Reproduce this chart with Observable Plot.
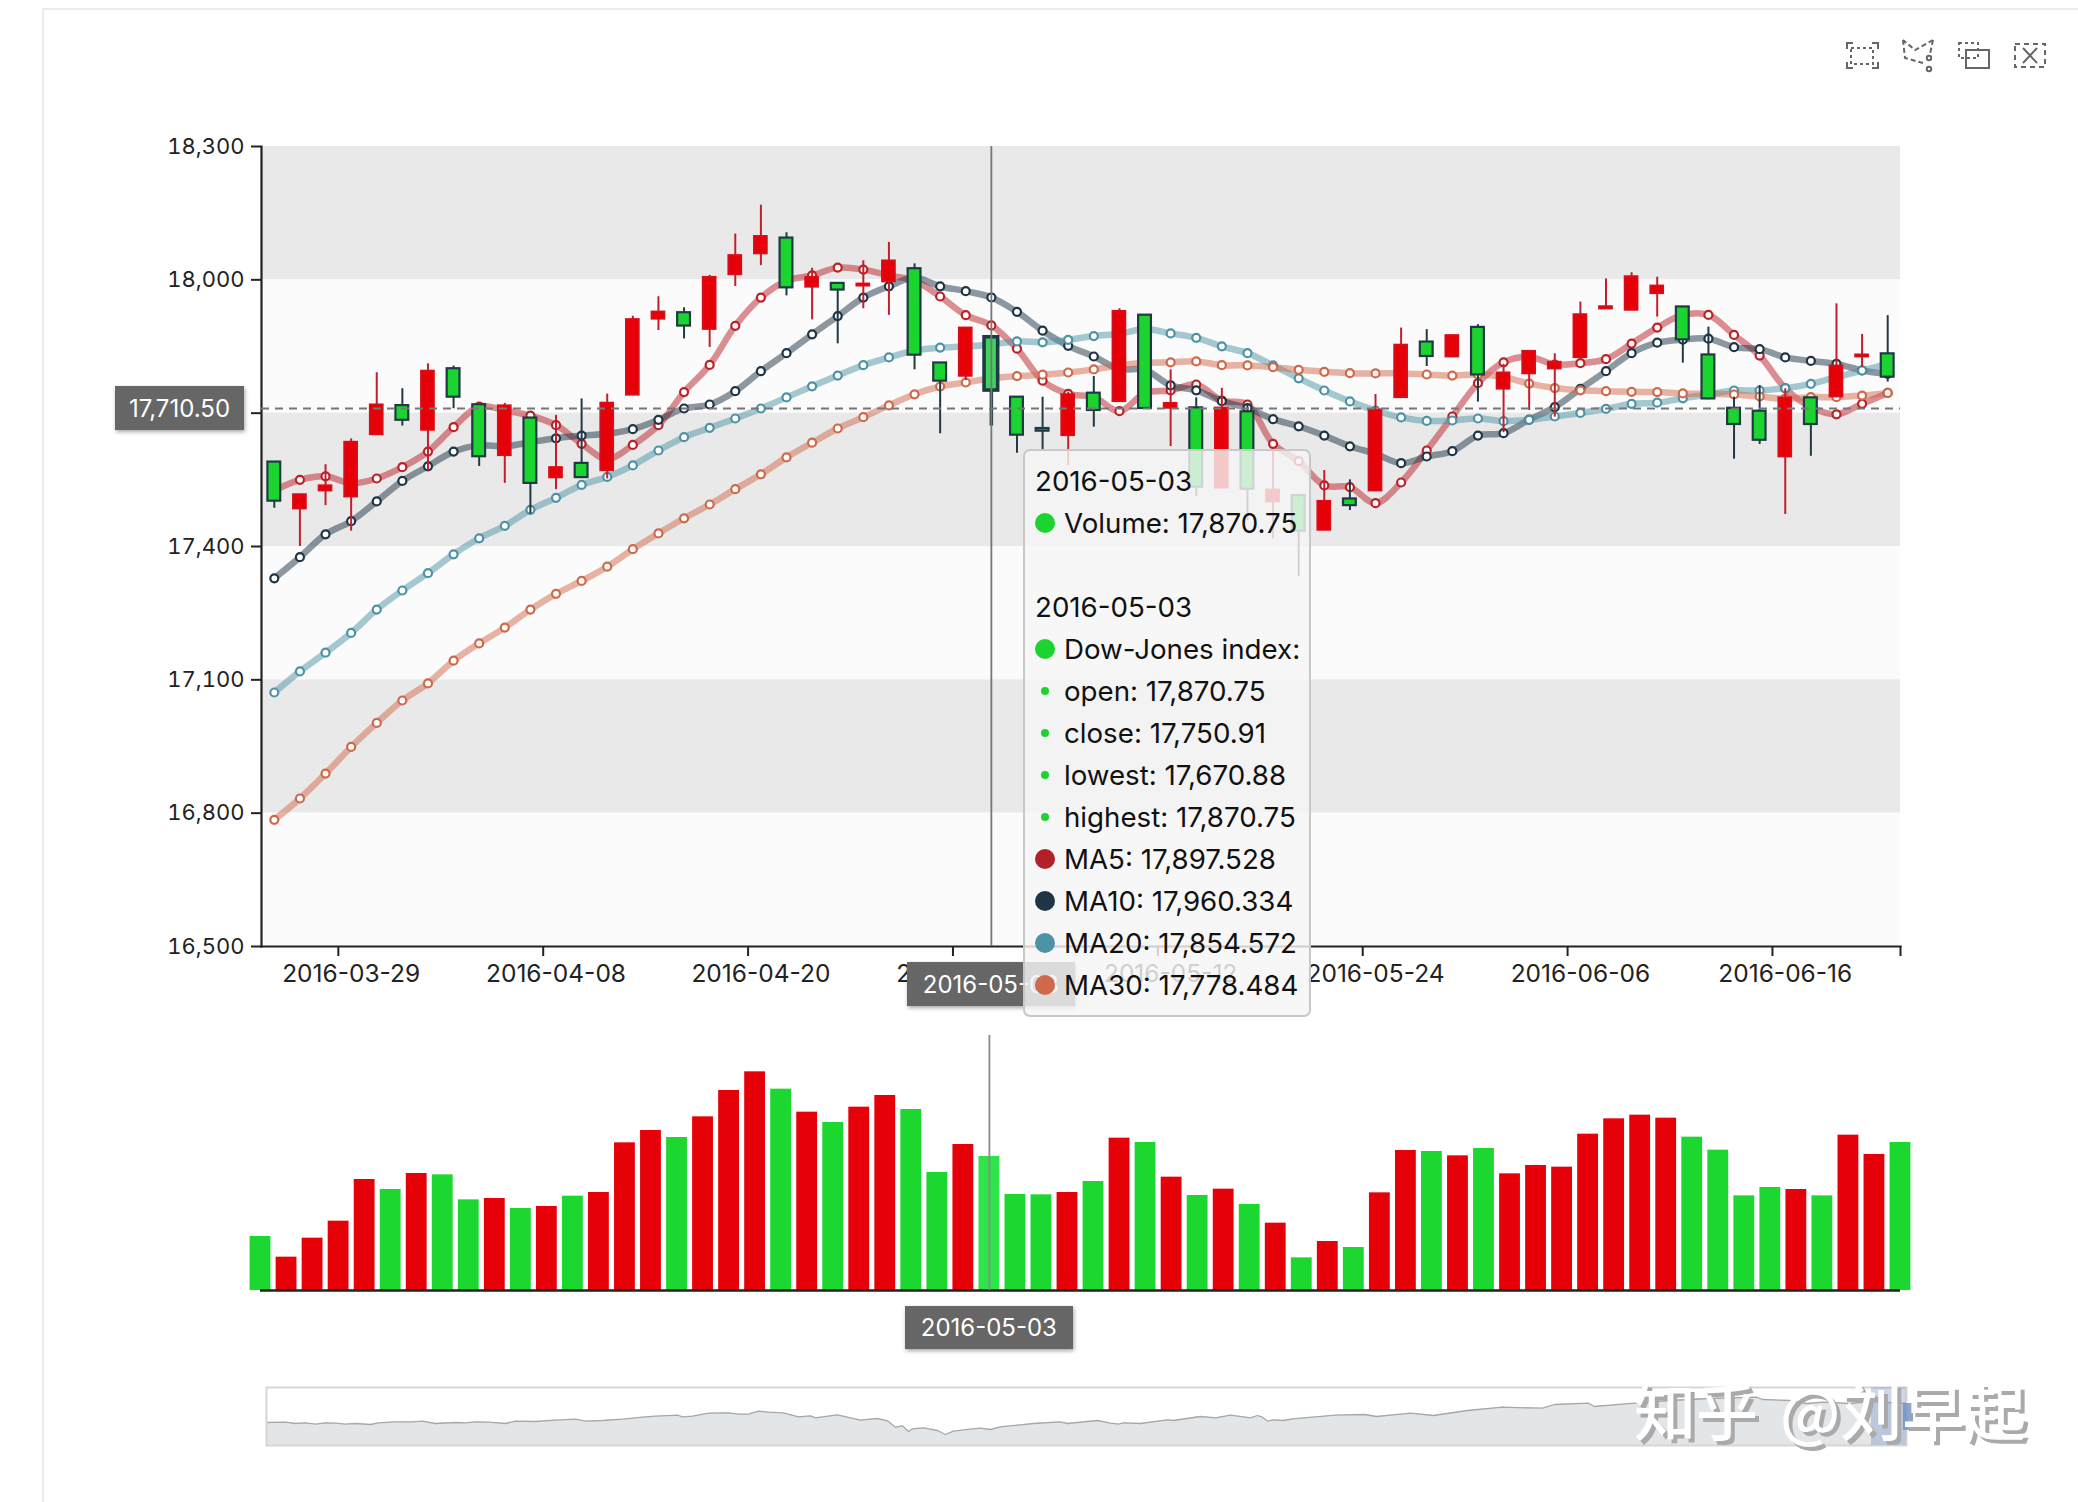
<!DOCTYPE html>
<html><head><meta charset="utf-8">
<script src="https://cdn.jsdelivr.net/npm/d3@7"></script>
<script src="https://cdn.jsdelivr.net/npm/@observablehq/plot@0.6"></script>
<style>
html,body{margin:0;background:#fff;}
#page{position:relative;width:2078px;height:1502px;overflow:hidden;font-family:Inter,"Noto Sans",sans-serif;}
.layer{position:absolute;left:0;width:2078px;}
.box{position:absolute;background:#666;color:#fff;font-size:24px;display:flex;align-items:center;justify-content:center;box-shadow:1px 2px 4px rgba(0,0,0,.35);}
#frame{position:absolute;left:42px;top:8px;width:2036px;height:1494px;border-left:2px solid #ededed;border-top:2px solid #ededed;box-sizing:border-box;}
#tip{position:absolute;left:1023px;top:449px;width:288px;height:568px;box-sizing:border-box;background:rgba(245,245,245,.82);border:2.5px solid #c8c8c8;border-radius:7px;padding:9px 0 0 10px;font-size:27.7px;line-height:42px;color:#111;white-space:nowrap;}
#tip div{height:42px;display:flex;align-items:center;}
#tip i{display:inline-block;border-radius:50%;flex:none;}
#tip i.b{width:20px;height:20px;margin-right:9px;}
#tip i.s{width:8px;height:8px;margin:0 15px 0 6px;}
#mark{position:absolute;left:1634px;top:1364px;font:500 62px "Noto Sans CJK SC";word-spacing:8px;color:#fff;text-shadow:4px 4px 0 #aaa;white-space:pre;}
</style></head><body>
<div id="page"><div id="frame"></div></div>
<script>
const dates=["2016-03-23","2016-03-24","2016-03-28","2016-03-29","2016-03-30","2016-03-31","2016-04-01","2016-04-04","2016-04-05","2016-04-06","2016-04-07","2016-04-08","2016-04-11","2016-04-12","2016-04-13","2016-04-14","2016-04-15","2016-04-18","2016-04-19","2016-04-20","2016-04-21","2016-04-22","2016-04-25","2016-04-26","2016-04-27","2016-04-28","2016-04-29","2016-05-02","2016-05-03","2016-05-04","2016-05-05","2016-05-06","2016-05-09","2016-05-10","2016-05-11","2016-05-12","2016-05-13","2016-05-16","2016-05-17","2016-05-18","2016-05-19","2016-05-20","2016-05-23","2016-05-24","2016-05-25","2016-05-26","2016-05-27","2016-05-31","2016-06-01","2016-06-02","2016-06-03","2016-06-06","2016-06-07","2016-06-08","2016-06-09","2016-06-10","2016-06-13","2016-06-14","2016-06-15","2016-06-16","2016-06-17","2016-06-20","2016-06-21","2016-06-22"];
const opens=[17590,17484,17524.5,17511,17651,17717,17661,17800,17719,17604,17689,17554,17587,17570,17740,17911,17926,17888,18011,18058,18094,17983,17992,17985.5,17995,18025,17813,17782.5,17870.75,17736,17665.5,17649,17745,17725.5,17920.5,17710.5,17712,17531,17703,17500,17514.5,17436,17507,17524.5,17734.5,17860,17826,17893,17753.5,17788,17799,17824.5,17934,17931,17968.5,17939,17831,17711,17704.5,17601,17734.5,17736,17826,17833.5];
const closes=[17502,17517,17537,17635,17719,17684,17795,17736,17602,17717,17542,17578,17555,17723,17911,17928,17896,18006,18055,18098,17982,18006,17977,17991,18043,17830.5,17772,17892,17750.91,17650.5,17659.5,17742,17706,17929.5,17710.5,17722.5,17533.5,17712,17529,17527.5,17434.5,17502,17492,17707.5,17853.5,17827.5,17875,17786,17791,17839.5,17815,17922,17940,18007.5,17986.5,17865,17732,17674.5,17639,17735,17674.5,17806.5,17831.5,17781];
const lows=[17486,17400,17492,17434.5,17651,17671,17569.5,17710,17580,17542,17473,17528,17555,17552,17740,17886,17867,17848,17985,18032,17964,17910,17856,17935,17920,17797.5,17653.5,17773.5,17670.88,17610,17616,17582,17668.5,17725.5,17710.5,17625,17512.5,17531,17458.5,17417,17332.5,17436,17481,17524.5,17734.5,17805,17826,17725,17656,17706,17691,17824.5,17934,17931,17916,17812.5,17732,17596.5,17629.5,17472,17603,17736,17803.5,17770];
const highs=[17590,17517,17584,17642,17791,17755,17811,17806,17719,17722,17689,17695,17732,17743,17918,17962,17937,18010,18103,18168,18106,18026,17992,18043,18084,18036,17813,17892,17870.75,17736,17736,17747,17782.5,17935,17920.5,17797.5,17734.5,17756,17720,17620,17514.5,17571,17550,17742,17891.5,17888,17875,17899,17810,17839.5,17833.5,17950,18002,18016,18006,17939,17893.5,17736,17762,17755,17734.5,17946,17877,17919.5];
const ma5=[17526,17550,17558,17542,17553,17578.5,17613.5,17668.5,17715,17706,17694.5,17673,17631,17597,17628.5,17673,17747.5,17808.5,17896.5,17960,17998,18010,18027.5,18023,18010,17998,17962.5,17920.5,17897.5,17845,17773,17743.5,17736,17704.5,17745.5,17751,17764.5,17728.5,17719.5,17631,17592,17537.5,17533.5,17497.5,17544,17616,17692.5,17767.5,17814.5,17827,17809.5,17812.5,17821.5,17856.5,17892.5,17921,17921,17876,17829.5,17756,17713.5,17697.5,17721,17745.5];
const ma10=[17328.5,17376,17427.5,17457,17501.5,17547.5,17580.5,17613.5,17627.5,17625.5,17634.5,17643.5,17649.5,17653.5,17664,17685,17710.5,17719.5,17749.5,17794.5,17835,17877.5,17918.5,17960,17985.5,18004.5,17985.5,17974.5,17960.3,17928,17885.5,17851.5,17827.5,17799.5,17797.5,17762.5,17751.5,17727,17711.5,17686.5,17670.5,17649.5,17625.5,17608.5,17587.5,17602.5,17614.5,17649.5,17655,17685.5,17713.5,17754.5,17794.5,17835,17858.5,17865.5,17867.5,17848.5,17844,17825.5,17817.5,17811,17796,17788.5];
const ma20=[17071.5,17119,17161,17205.5,17258,17301,17340,17382.5,17418.5,17446.5,17482.5,17509.5,17538.5,17556.5,17582.5,17616,17646,17667,17688,17710.5,17735.5,17760.5,17784.5,17808,17825.5,17841,17847.5,17850,17854.6,17861.5,17859.5,17865,17873.5,17878.5,17889.5,17879.5,17869.5,17850.5,17835,17807.5,17778.5,17751,17726.5,17706,17690.5,17682.5,17683.5,17688,17682,17685,17692.5,17700.5,17709.5,17721,17723.5,17733.5,17742,17751,17751,17756.5,17766,17781,17796,17811];
const ma30=[16785,16833,16889,16949,17003,17053.5,17092,17143,17182,17217.5,17258,17293.5,17322.5,17354.5,17394,17429.5,17463.5,17494.5,17529,17562.5,17600.5,17633.5,17665.5,17691,17717.5,17742.5,17760,17769,17778.5,17783.5,17786.5,17791.5,17798.5,17807.5,17813.5,17814.5,17816.5,17808,17807.5,17803.5,17797.5,17793,17790,17789.5,17789.5,17787,17784.5,17787,17781,17766.5,17756.5,17751.5,17749.5,17748,17747.5,17744.5,17743.5,17742,17737.5,17732.5,17736,17736,17739.5,17745.5];
const volumes=[162,100,157,208,333,303,351,347,272,276,246,252,283,294,443,480,459,521,600,656,604,535,504,550,585,543,354,438,402,288,287,294,327,457,444,340,285,304,258,202,98,147,129,293,420,417,404,426,350,375,370,469,515,526,517,460,421,284,309,303,284,466,408,444];
const sliderPos=[0,19,29,39,49,59,69,79,89,104,112,129,146,156,169,189,199,209,222,239,249,269,289,309,319,336,356,376,389,411,416,426,442,462,472,482,492,502,517,532,544,549,571,594,611,621,629,636,642,646,657,671,679,687,704,714,724,734,754,767,794,801,831,844,852,857,874,901,907,934,949,964,984,991,996,1001,1007,1017,1026,1069,1098,1110,1144,1167,1201,1236,1276,1288,1322,1328,1368,1404,1443,1490,1496,1523,1540,1557,1583,1604,1640];
const sliderVal=[23,23.3,22,22.7,21.3,22.7,22.3,21.3,22,21,22.7,23.7,23.7,24.3,22,23,22.7,23.7,23.3,22,24.3,24,25.3,26.3,24.3,25,26.3,28.3,29.3,30.3,28.7,29.3,32.3,32.7,31.3,31.3,34.3,33.3,32.7,28.7,29.7,27.7,30.7,25.3,27,24.7,18.3,19.7,14,16.7,17.7,15,11,14.3,16.3,17.3,16,18.7,20.7,22,23.7,22,25,22.3,21.3,22.7,22,25.7,25,29,27.7,30.3,27.7,30,28.3,24.3,25.7,25,26.7,30.3,31,29,32.3,30,35,38.3,37.3,41,42.3,39,42.3,45,47,48.3,46,45,42,43.3,42,44,42];
const yTicks=[16500,16800,17100,17400,17700,18000,18300];
const xLabels=["2016-03-29","2016-04-08","2016-04-20","2016-05-02","2016-05-12","2016-05-24","2016-06-06","2016-06-16"];
const crossDate="2016-05-03", crossValue=17710.5;

const RED="#e60008",GREEN="#1bd430",DARK="#1f3a44",WICKRED="#c0202c";
const SER=[["MA5",ma5,"#bb2228"],["MA10",ma10,"#1f3444"],["MA20",ma20,"#4d93a5"],["MA30",ma30,"#d0694b"]];
const table=dates.map((d,i)=>({date:d,open:opens[i],close:closes[i],low:lows[i],high:highs[i],vol:volumes[i],up:closes[i]>=opens[i]}));
const ups=table.filter(d=>d.up&&d.date!==crossDate), downs=table.filter(d=>!d.up&&d.date!==crossDate), cross=table.filter(d=>d.date===crossDate);
const bands=[[18000,18300,"#e9e9e9"],[17700,18000,"#fbfbfb"],[17400,17700,"#e9e9e9"],[17100,17400,"#fbfbfb"],[16800,17100,"#e9e9e9"],[16500,16800,"#fbfbfb"]].map(([a,b,f])=>({a,b,f}));

const xBand={type:"band",domain:dates,padding:0,round:false};
const fontStyle={fontFamily:"Inter,'Noto Sans',sans-serif",fontSize:"23px",background:"transparent",color:"#222",overflow:"visible",maxWidth:"none"};
const H=1000,dx=12.8;
const main=Plot.plot({
  width:2078,height:H,marginLeft:261,marginRight:178,marginTop:146,marginBottom:54,
  x:{...xBand},y:{domain:[16500,18300],grid:false},style:fontStyle,
  marks:[
    Plot.rectY(bands,{y1:"a",y2:"b",fill:d=>d.f}),
    Plot.axisY({ticks:yTicks,tickFormat:d3.format(","),tickSize:10,tickPadding:7,stroke:"#222",strokeWidth:2,fill:"#222",fontSize:22,label:null}),
    Plot.axisX({ticks:xLabels,tickSize:10,fill:"none",stroke:"#222",strokeWidth:2,dx:-dx,label:null}),
    Plot.axisX({ticks:[dates[63]],tickSize:10,fill:"none",stroke:"#222",strokeWidth:2,dx:dx,label:null}),
    Plot.axisX({ticks:xLabels,tickSize:0,tickPadding:18,fill:"#222",fontSize:24.5,label:null}),
    ...SER.map(([n,v,c])=>Plot.lineY(v,{x:(_,i)=>dates[i],y:d=>d,stroke:c,strokeOpacity:.5,strokeWidth:6.5,curve:"catmull-rom"})),
    ...SER.map(([n,v,c])=>Plot.dot(v,{x:(_,i)=>dates[i],y:d=>d,r:4,fill:"#fff",stroke:c,strokeWidth:2.2})),
    Plot.ruleX(ups,{x:"date",y1:"low",y2:"high",stroke:WICKRED,strokeWidth:2}),
    Plot.ruleX(downs,{x:"date",y1:"low",y2:"high",stroke:DARK,strokeWidth:2}),
    Plot.ruleX(cross,{x:"date",y1:"low",y2:"high",stroke:DARK,strokeWidth:3.5}),
    Plot.barY(ups,{x:"date",y1:"open",y2:"close",fill:RED,stroke:"#d5101c",strokeWidth:1.5,insetLeft:6.2,insetRight:6.2}),
    Plot.barY(downs,{x:"date",y1:"open",y2:"close",fill:GREEN,stroke:DARK,strokeWidth:2.2,insetLeft:6.4,insetRight:6.4}),
    Plot.barY(cross,{x:"date",y1:"open",y2:"close",fill:"#3cd45a",stroke:DARK,strokeWidth:3.6,insetLeft:6,insetRight:6}),
    Plot.frame({anchor:"left",stroke:"#222",strokeWidth:2.2}),
    Plot.frame({anchor:"bottom",stroke:"#222",strokeWidth:2.2}),
    Plot.ruleX([crossDate],{stroke:"#777",strokeWidth:1.8}),
    Plot.ruleY([crossValue],{stroke:"#777",strokeWidth:1.8,strokeDasharray:"8,6"})
  ]
});
const vol=Plot.plot({
  width:2078,height:265,marginLeft:247,marginRight:165,marginTop:0,marginBottom:5,
  x:{...xBand,axis:null},y:{domain:[0,780],axis:null},style:fontStyle,
  marks:[
    Plot.barY(table.filter(d=>d.up),{x:"date",y:"vol",fill:RED,insetLeft:2.6,insetRight:2.6}),
    Plot.barY(table.filter(d=>!d.up&&d.date!==crossDate),{x:"date",y:"vol",fill:"#1dd731",insetLeft:2.6,insetRight:2.6}),
    Plot.barY(cross,{x:"date",y:"vol",fill:"#2fe34a",insetLeft:2.6,insetRight:2.6}),
    Plot.ruleY([0],{stroke:"#222",strokeWidth:2.4,insetLeft:13,insetRight:13}),
    Plot.ruleX([crossDate],{y1:0,y2:765,stroke:"#8a8a8a",strokeWidth:1.8})
  ]
});
const sliderData=sliderPos.map((p,i)=>({p,v:sliderVal[i]}));
const slider=Plot.plot({
  width:2078,height:58,marginLeft:266,marginRight:172,marginTop:0,marginBottom:0,
  x:{domain:[0,1640],axis:null},y:{domain:[0,58],axis:null},style:fontStyle,
  marks:[
    Plot.areaY(sliderData,{x:"p",y:"v",fill:"#e3e6e9"}),
    Plot.lineY(sliderData,{x:"p",y:"v",stroke:"#a8a8a8",strokeWidth:1.3}),
    Plot.frame({stroke:"#d6d6d6",strokeWidth:2}),
    Plot.rectY([{a:0,b:58}],{x1:1605,x2:1640,y1:"a",y2:"b",fill:"#7f9cc8",fillOpacity:.4}),
    Plot.rectY([{a:15,b:42}],{x1:1637,x2:1647,y1:"a",y2:"b",fill:"#6e90c0",fillOpacity:.8})
  ]
});
const page=document.getElementById("page");
function place(svg,top){const w=document.createElement("div");w.className="layer";w.style.top=top+"px";w.appendChild(svg);page.appendChild(w);}
place(main,0);place(vol,1030);place(slider,1387);

function box(txt,l,t,w,h){const b=document.createElement("div");b.className="box";b.textContent=txt;b.style.cssText=`left:${l}px;top:${t}px;width:${w}px;height:${h}px`;page.appendChild(b);}
const yy=main.scale("y").apply(crossValue);
const cx=main.scale("x").apply(crossDate)+main.scale("x").bandwidth/2;
box(d3.format(",.2f")(crossValue),115,yy-22,129,44);
box(crossDate,cx-84,962,168,44);
box(crossDate,cx-86,1306,168,43);

// toolbox
page.insertAdjacentHTML("beforeend",`<svg width="2078" height="100" style="position:absolute;left:0;top:0" fill="none" stroke="#666" stroke-width="2">
<path d="M1847 49v-6h6M1872 43h6v6M1878 62v6h-6M1853 68h-6v-6"/><rect x="1851" y="48" width="22" height="16" stroke-dasharray="3 3"/>
<path d="M1903 40l2 18 18 5M1933 40l-18 10-12-10M1933 40l-3 14" stroke-dasharray="5 3"/><circle cx="1929" cy="69" r="2.2"/><circle cx="1929" cy="58" r="2.2"/>
<rect x="1959" y="43" width="19" height="15" stroke-dasharray="3 3"/><rect x="1966" y="50" width="23" height="18"/>
<rect x="2015" y="44" width="30" height="23" stroke-dasharray="5 4"/><path d="M2023 48l14 15M2037 48l-14 15"/></svg>`);

// watermark
const m=document.createElement("div");m.id="mark";m.textContent="知乎 @刘早起";page.appendChild(m);

// tooltip
const fmt2=d3.format(",.2f");
const tipRows=[
 ["t",crossDate],["b",GREEN,"Volume: "+fmt2(opens[28])],["t",""],["t",crossDate],["b",GREEN,"Dow-Jones index:"],
 ["s",GREEN,"open: "+fmt2(opens[28])],["s",GREEN,"close: "+fmt2(closes[28])],["s",GREEN,"lowest: "+fmt2(lows[28])],["s",GREEN,"highest: "+fmt2(highs[28])],
 ["b","#b2212a","MA5: 17,897.528"],["b","#1f3444","MA10: 17,960.334"],["b","#4d93a5","MA20: 17,854.572"],["b","#d0694b","MA30: 17,778.484"]];
const tip=document.createElement("div");tip.id="tip";
tip.innerHTML=tipRows.map(r=>r[0]==="t"?`<div>${r[1]}</div>`:`<div><i class="${r[0]}" style="background:${r[1]}"></i>${r[2]}</div>`).join("");
page.appendChild(tip);
</script>
</body></html>
